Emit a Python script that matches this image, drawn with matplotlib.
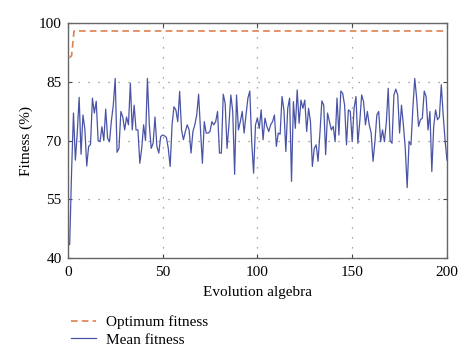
import matplotlib
matplotlib.use("Agg")
import matplotlib.pyplot as plt

# Optimum fitness (breakpoints)
opt_x = [1, 2, 3.3, 200]
opt_y = [91.1, 91.6, 97.9, 97.9]

# Mean fitness per generation (x = 1..200)
mean_fitness = [
    43.5, 62.0, 77.0, 65.0, 72.0, 81.0, 66.5, 76.5, 73.0, 63.5,
    68.5, 69.0, 80.8, 77.0, 80.0, 70.0, 69.7, 73.5, 70.0, 78.0,
    70.6, 69.7, 75.0, 79.0, 85.8, 67.0, 68.0, 77.4, 76.0, 72.7,
    76.0, 74.0, 84.6, 72.7, 79.0, 72.7, 72.7, 64.2, 68.0, 74.0,
    70.0, 85.8, 74.0, 68.0, 69.3, 76.0, 68.5, 66.8, 71.0, 71.4,
    71.2, 70.8, 68.0, 63.4, 74.0, 78.6, 77.8, 74.8, 82.5, 72.7,
    70.2, 72.3, 74.0, 72.7, 66.8, 72.3, 74.0, 76.5, 81.8, 72.7,
    64.2, 74.8, 71.9, 71.9, 72.3, 74.8, 74.0, 74.8, 77.4, 66.8,
    66.8, 81.8, 79.5, 68.0, 74.0, 81.6, 77.4, 61.4, 81.6, 72.7,
    74.8, 77.4, 71.9, 76.5, 80.8, 82.6, 69.7, 61.7, 74.0, 75.7,
    73.1, 77.8, 70.2, 75.7, 73.6, 72.3, 74.0, 74.8, 76.5, 68.5,
    71.9, 71.6, 81.2, 77.8, 67.2, 78.2, 80.8, 59.6, 79.9, 73.1,
    82.9, 74.4, 80.3, 78.2, 80.3, 72.3, 78.2, 74.8, 63.4, 68.0,
    68.9, 64.7, 72.0, 80.1, 79.0, 66.4, 77.0, 74.8, 72.7, 73.6,
    69.7, 80.8, 71.4, 82.6, 82.0, 79.0, 68.9, 77.8, 77.4, 69.7,
    78.2, 81.2, 69.3, 74.8, 81.6, 79.9, 74.0, 77.4, 74.0, 71.9,
    64.7, 69.7, 76.5, 77.4, 69.7, 72.7, 69.7, 74.5, 83.3, 70.0,
    69.3, 81.6, 83.1, 81.6, 71.9, 79.0, 74.0, 68.0, 58.0, 69.7,
    68.9, 78.2, 85.8, 80.8, 73.6, 75.3, 75.7, 82.6, 81.2, 72.7,
    77.4, 62.1, 73.6, 77.8, 75.3, 76.0, 84.2, 76.5, 70.0, 65.0,
]
generations = list(range(1, len(mean_fitness) + 1))

x_ticks = [0, 50, 100, 150, 200]
y_ticks = [40, 55, 70, 85, 100]

plt.rcParams['font.family'] = ['Liberation Serif', 'DejaVu Serif']

fig = plt.figure(figsize=(4.74, 3.61), dpi=100)
ax = fig.add_axes([0.1430, 0.2845, 0.8000, 0.6525])

l1, = ax.plot(opt_x, opt_y, color='#e0804f', lw=1.2, ls=(0, (4, 2.5)),
              label='Optimum fitness')
l2, = ax.plot(generations, mean_fitness, color='#4a54a6', lw=0.9,
              label='Mean fitness')

ax.set_xlim(0, 200)
ax.set_ylim(40, 100)
ax.set_xticks(x_ticks)
ax.set_yticks(y_ticks)
ax.tick_params(direction='in', top=True, right=True, labelsize=11,
               length=3, color='#444444')
ax.tick_params(axis='x', pad=5.5)
ax.tick_params(axis='y', pad=4.5)
ax.grid(True, ls=(0, (1, 7)), color='#888888', lw=0.9)
for s in ax.spines.values():
    s.set_color('#666666')
    s.set_linewidth(1.0)

ax.set_xlabel('Evolution algebra', fontsize=11, labelpad=5)
ax.set_ylabel('Fitness (%)', fontsize=11, labelpad=4)

fig.legend(handles=[l1, l2], loc='upper left', bbox_to_anchor=(0.133, 0.148),
           frameon=False, fontsize=11, handlelength=1.65, handletextpad=0.65,
           labelspacing=0.25, borderpad=0.0)

fig.savefig('out.png', dpi=100)
